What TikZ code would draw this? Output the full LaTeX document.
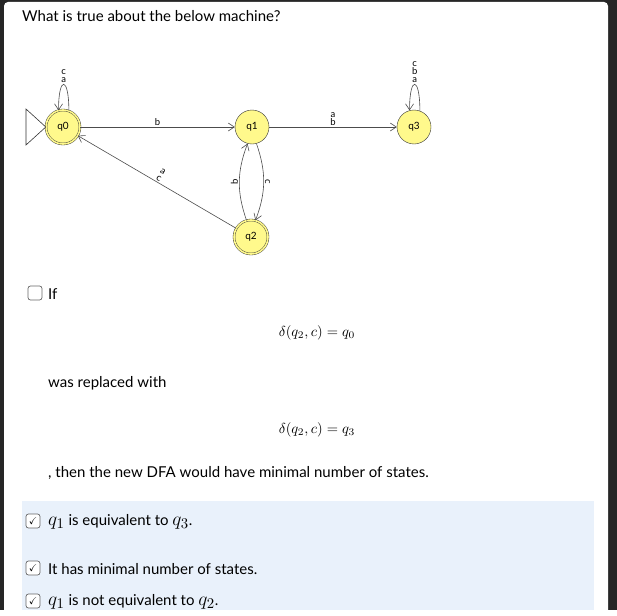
\documentclass[tikz,border=0pt]{standalone}
\usepackage{amsmath,amssymb}
\usepackage{fontspec}
\setmainfont{Lato}
\usetikzlibrary{arrows.meta}
\definecolor{pale}{HTML}{E9F1FB}
\newcommand{\bq}[1]{\scalebox{1.35}{$q_{#1}$}}
\begin{document}
\begin{tikzpicture}[x=1pt,y=-1pt,
  st/.style={circle,draw=black!80,fill=yellow!45!white,minimum size=34pt,inner sep=0pt,font=\fontsize{10}{11}\selectfont},
  acc/.style={st,double=yellow!45!white,double distance=1.6pt},
  tr/.style={draw=black!70,-{Straight Barb[length=6pt,width=8pt]},line width=0.6pt},
  lb/.style={font=\fontsize{9.5}{9}\selectfont,inner sep=1pt},
  txt/.style={anchor=west,font=\fontsize{15}{16}\selectfont,inner sep=0pt},
  cb/.style={draw=black!60,rounded corners=2.5pt,minimum size=14pt,inner sep=0pt,line width=0.7pt,fill=white}]
\fill[black!85] (0,0) rectangle (617,610);
\fill[white,rounded corners=4pt] (4,2) rectangle (608,615);
\fill[pale] (22,501) rectangle (594,610);
\useasboundingbox (0,0) rectangle (617,610);
\node[txt] (title) at (22,16) {What is true about the below machine?};
\node[acc] (q0) at (63,127) {q0};
\node[st] (q1) at (252,127) {q1};
\node[st] (q3) at (414,127) {q3};
\node[acc] (q2) at (251,237) {q2};
\coordinate (ia) at (26,109); \coordinate (ib) at (26,145);
\draw[black!80,line width=0.6pt] (ia) -- (q0.west) -- (ib) -- cycle;
\draw[tr] (q0) -- node[lb,above]{b} (q1);
\draw[tr] (q1) -- node[lb,above,align=center]{a\\[-1pt]b} (q3);
\draw[tr] (q0.70) .. controls +(0,-35) and +(0,-35) .. (q0.105) node[lb,pos=0.5,above,align=center]{c\\[-1pt]a};
\draw[tr] (q3.70) .. controls +(0,-35) and +(0,-35) .. (q3.105) node[lb,pos=0.5,above,align=center]{c\\[-1pt]b\\[-1pt]a};
\draw[tr] (q2) -- node[lb,pos=0.5,above,sloped,align=center]{a\\[-1pt]c} (q0);
\draw[tr] (q2.105) to[bend left=20] node[lb,rotate=90,anchor=south]{b} (q1.255);
\draw[tr] (q1.285) to[bend left=20] node[lb,rotate=-90,anchor=south]{c} (q2.75);
\node[cb] (c0) at (35,293) {};
\node[txt] (if) at (48,294) {If};
\node[scale=1.45] (f1) at (317,333) {$\delta(q_2,c)=q_0$};
\node[txt] (rep) at (48,383) {was replaced with};
\node[scale=1.45] (f2) at (317,430) {$\delta(q_2,c)=q_3$};
\node[txt] (then) at (48,473) {, then the new DFA would have minimal number of states.};
\node[cb] (c1) at (33,521) {$\checkmark$};
\node[txt] (o1) at (48,522) {\bq1 is equivalent to \bq3.};
\node[cb] (c2) at (33,568) {$\checkmark$};
\node[txt] (o2) at (48,569) {It has minimal number of states.};
\node[cb] (c3) at (33,601) {$\checkmark$};
\node[txt] (o3) at (48,602) {\bq1 is not equivalent to \bq2.};
\end{tikzpicture}
\end{document}
